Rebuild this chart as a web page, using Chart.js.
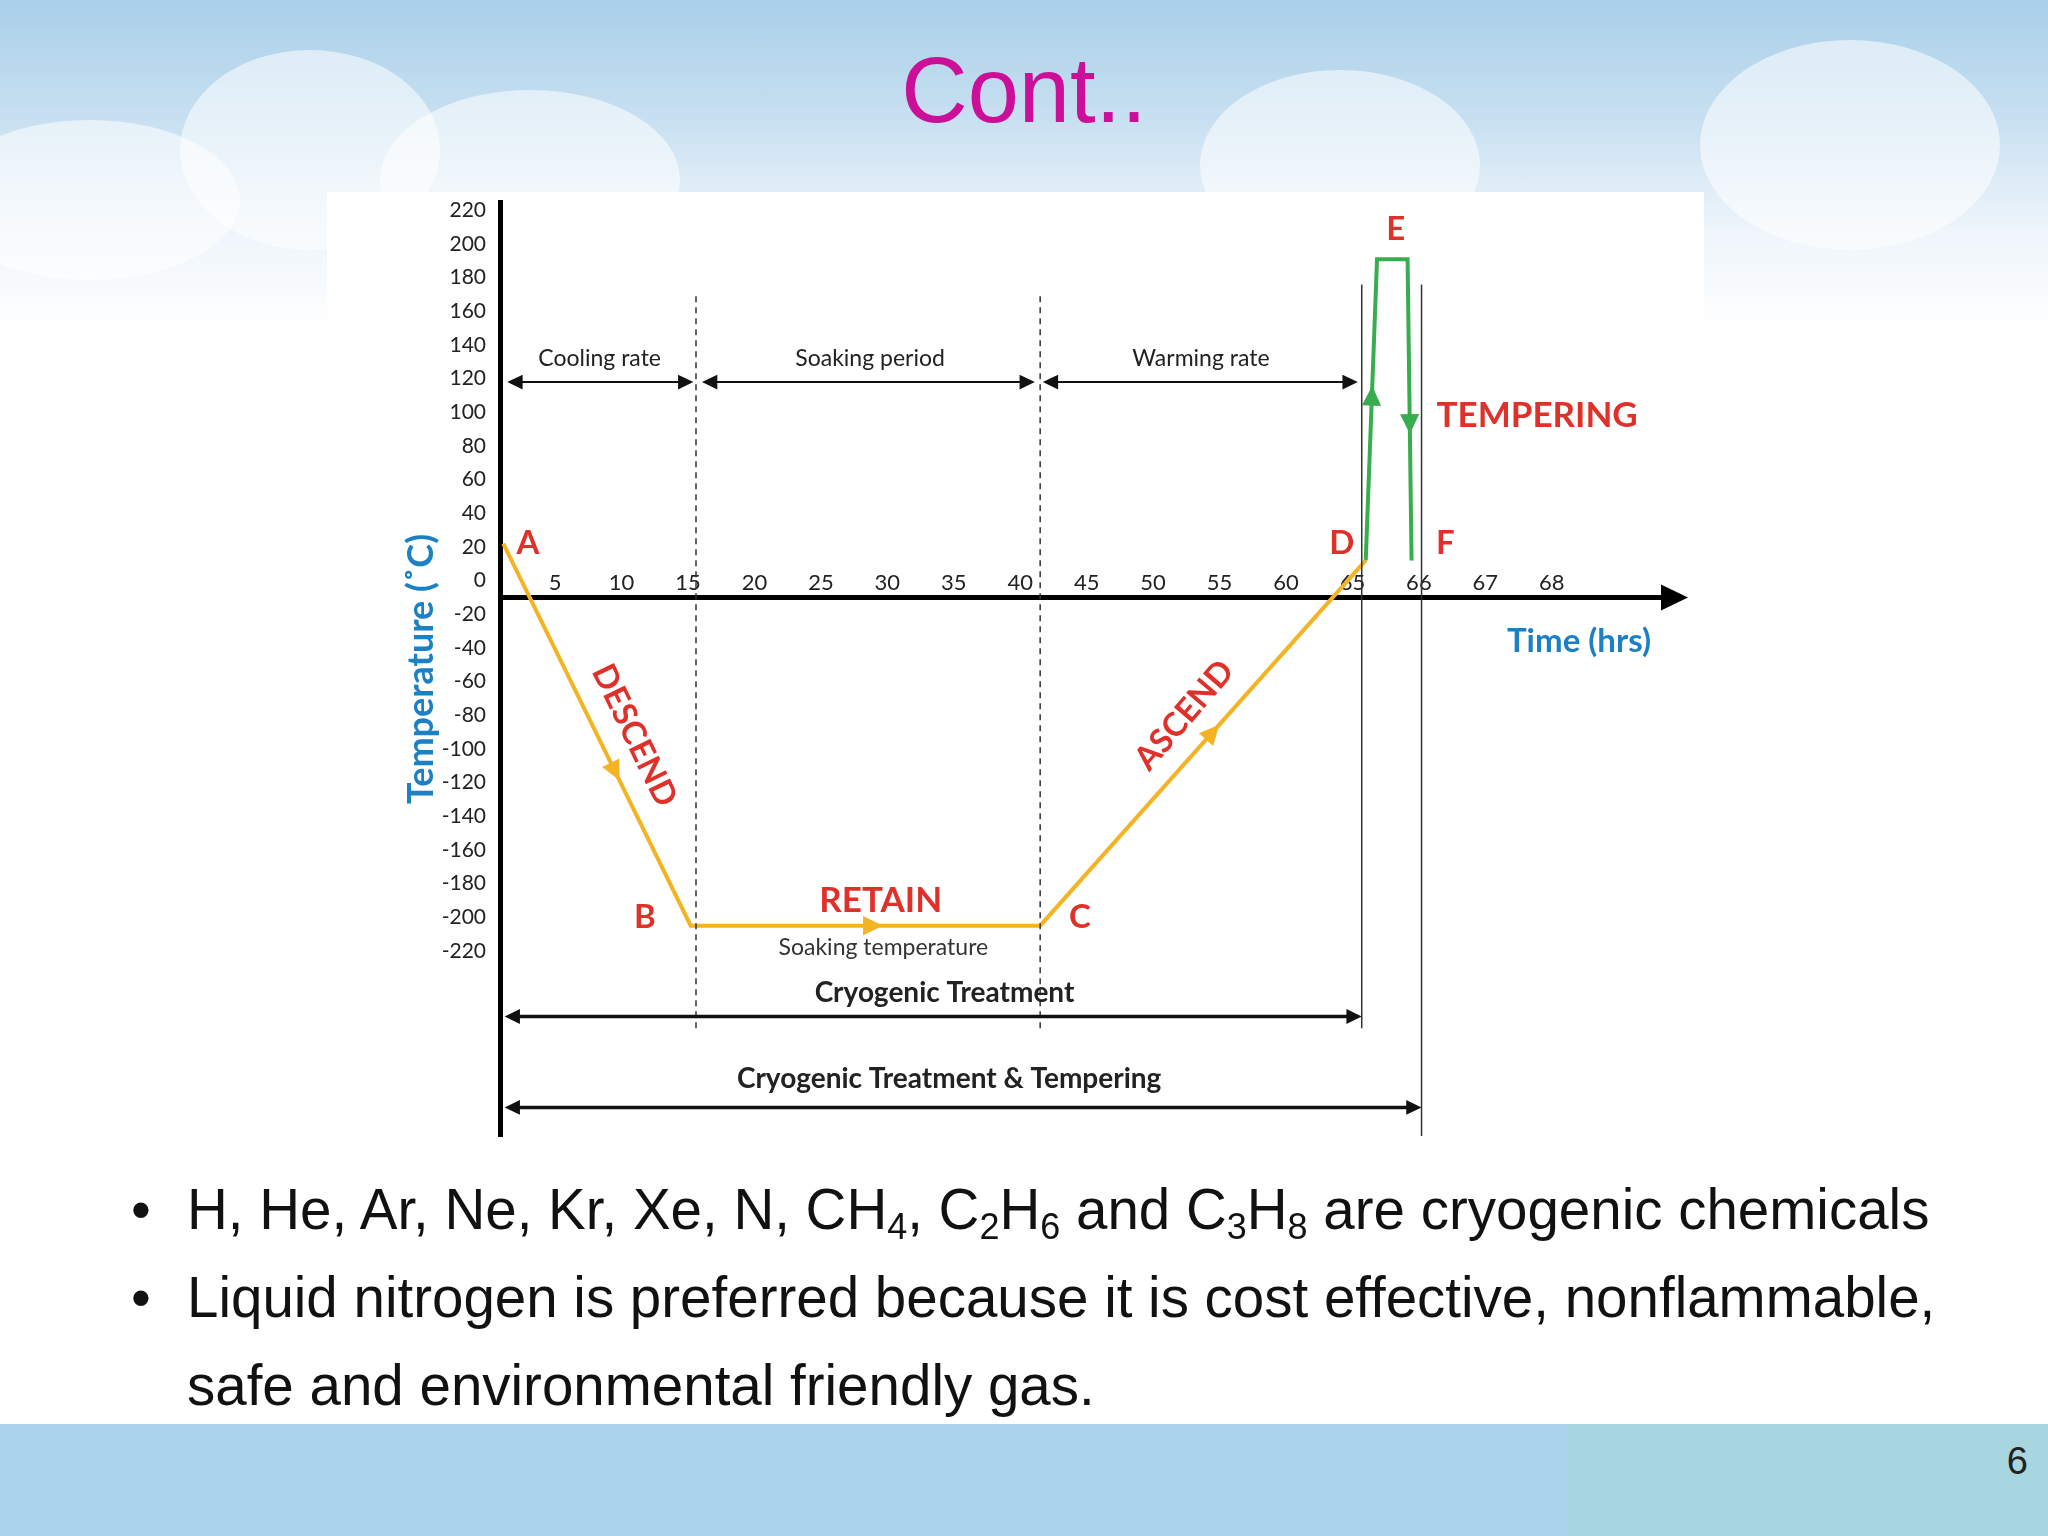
<!DOCTYPE html>
<html>
<head>
<meta charset="utf-8">
<script src="https://cdn.jsdelivr.net/npm/chart.js@4.4.1/dist/chart.umd.min.js"></script>
<style>
  html, body { margin: 0; padding: 0; }
  body { width: 2048px; height: 1536px; position: relative; overflow: hidden;
         background: linear-gradient(#a9cfe9 0px, #c8e0f1 120px, #eef5fb 230px, #ffffff 330px); font-family: "Liberation Sans", Arial, sans-serif; }
  .cloud { position: absolute; border-radius: 50%; background: rgba(255,255,255,0.55); }
  #panel { position: absolute; left: 327px; top: 192px; width: 1377px; height: 951px; background: #fff; }
  #title { position: absolute; left: 0; width: 2048px; top: 38px; text-align: center; font-size: 92px; color: #cc0f99; }
  #chart { position: absolute; left: 0; top: 0; }
  #bullets { position: absolute; left: 131px; top: 1166px; font-size: 56.5px; color: #111; line-height: 88px; }
  #bullets .b { position: relative; padding-left: 56px; }
  #bullets .b::before { content: "\2022"; position: absolute; left: 0; }
  sub { font-size: 36px; vertical-align: -10px; line-height: 0; }
  #footer { position: absolute; left: 0; top: 1424px; width: 2048px; height: 112px; background: #acd3ec; }
  #footer2 { position: absolute; left: 1568px; top: 1424px; width: 480px; height: 112px; background: #a8d6e0; }
  #page { position: absolute; right: 20px; top: 1440px; font-size: 38px; color: #222; }
</style>
</head>
<body>
<div class="cloud" style="left:180px;top:50px;width:260px;height:200px"></div>
<div class="cloud" style="left:380px;top:90px;width:300px;height:180px"></div>
<div class="cloud" style="left:1200px;top:70px;width:280px;height:190px"></div>
<div class="cloud" style="left:1700px;top:40px;width:300px;height:210px"></div>
<div class="cloud" style="left:-60px;top:120px;width:300px;height:160px"></div>
<div id="panel"></div>
<div id="title">Cont..</div>
<canvas id="chart" width="2048" height="1536"></canvas>
<div id="bullets">
  <div class="b">H, He, Ar, Ne, Kr, Xe, N, CH<sub>4</sub>, C<sub>2</sub>H<sub>6</sub> and C<sub>3</sub>H<sub>8</sub> are cryogenic chemicals</div>
  <div class="b">Liquid nitrogen is preferred because it is cost effective, nonflammable,<br>safe and environmental friendly gas.</div>
</div>
<div id="footer"></div>
<div id="footer2"></div>
<div id="page">6</div>
<script>
// x axis is an evenly spaced position index; labels map to hours
const timeLabels = ['5', '10', '15', '20', '25', '30', '35', '40', '45', '50', '55', '60', '65', '66', '67', '68'];
const tempTicks = [220, 200, 180, 160, 140, 120, 100, 80, 60, 40, 20, 0, -20, -40, -60, -80, -100, -120, -140, -160, -180, -200, -220];

// cryogenic curve A-B-C-D (position index, deg C)
const cryoPos = [0.22, 3.04, 8.3, 13.2];
const cryoTemp = [22, -205, -205, 12];
// tempering curve D-E-F
const tempPos = [13.2, 13.37, 13.83, 13.89];
const tempTemp = [12, 191, 191, 12];

const orange = '#f4b323', green = '#38ad4e', red = '#e0302a', blue = '#1b80c4';
const labelFont = 'Lato, "Open Sans", sans-serif';

function pts(xs, ys) { return xs.map((x, i) => ({ x: x, y: ys[i] })); }

const overlay = {
  id: 'overlay',
  afterDatasetsDraw(chart) {
    const c = chart.ctx, sx = chart.scales.x, sy = chart.scales.y;
    const X = v => sx.getPixelForValue(v), Y = v => sy.getPixelForValue(v);
    c.save();
    function head(x, y, ang, col, len) {
      c.fillStyle = col;
      c.beginPath();
      c.moveTo(x, y);
      c.lineTo(x - len * Math.cos(ang - 0.45), y - len * Math.sin(ang - 0.45));
      c.lineTo(x - len * Math.cos(ang + 0.45), y - len * Math.sin(ang + 0.45));
      c.closePath(); c.fill();
    }
    function vline(u, t0, t1, dash) {
      c.strokeStyle = '#333'; c.lineWidth = 1.5; c.setLineDash(dash);
      c.beginPath(); c.moveTo(X(u), Y(t0)); c.lineTo(X(u), Y(t1)); c.stroke();
      c.setLineDash([]);
    }
    function harrow(u0, u1, t, w) {
      const y = Y(t);
      c.strokeStyle = '#111'; c.lineWidth = w;
      c.beginPath(); c.moveTo(X(u0) + 8, y); c.lineTo(X(u1) - 8, y); c.stroke();
      head(X(u0), y, Math.PI, '#111', 17);
      head(X(u1), y, 0, '#111', 17);
    }
    function text(s, u, t, font, col, rot) {
      c.save(); c.translate(X(u), Y(t)); if (rot) c.rotate(rot);
      c.font = font; c.fillStyle = col; c.textAlign = 'center'; c.textBaseline = 'middle';
      c.fillText(s, 0, 0); c.restore();
    }
    vline(3.12, 169, -266, [6, 5]);
    vline(8.3, 169, -266, [6, 5]);
    vline(13.14, 176, -266, []);
    vline(14.04, 176, -330, []);
    harrow(0.28, 3.08, 118, 2);
    harrow(3.21, 8.22, 118, 2);
    harrow(8.34, 13.08, 118, 2);
    harrow(0.24, 13.14, -259, 3.5);
    harrow(0.24, 14.04, -313, 3.5);
    // x axis arrow head
    head(sx.right + 10, Y(-10), 0, '#000', 30);
    // arrows along curves
    function along(xs, ys, i, f, col) {
      const x0 = X(xs[i]), y0 = Y(ys[i]), x1 = X(xs[i + 1]), y1 = Y(ys[i + 1]);
      head(x0 + (x1 - x0) * f, y0 + (y1 - y0) * f, Math.atan2(y1 - y0, x1 - x0), col, 22);
    }
    along(cryoPos, cryoTemp, 0, 0.62, orange);
    along(cryoPos, cryoTemp, 1, 0.55, orange);
    along(cryoPos, cryoTemp, 2, 0.55, orange);
    along(tempPos, tempTemp, 0, 0.58, green);
    along(tempPos, tempTemp, 2, 0.58, green);

    const small = '23px ' + labelFont;
    text('Cooling rate', 1.67, 132, small, '#222');
    text('Soaking period', 5.74, 132, small, '#222');
    text('Warming rate', 10.72, 132, small, '#222');
    text('Soaking temperature', 5.94, -218, small, '#333');
    text('Cryogenic Treatment', 6.86, -245, 'bold 28px ' + labelFont, '#222');
    text('Cryogenic Treatment & Tempering', 6.93, -296, 'bold 28px ' + labelFont, '#222');
    const big = 'bold 33px ' + labelFont;
    text('A', 0.59, 22, big, red);
    text('B', 2.35, -200, big, red);
    text('C', 8.9, -200, big, red);
    text('D', 12.84, 22, big, red);
    text('E', 13.65, 209, big, red);
    text('F', 14.4, 22, big, red);
    text('TEMPERING', 15.78, 98, 'bold 35px ' + labelFont, red);
    text('RETAIN', 5.9, -190, 'bold 35px ' + labelFont, red);
    text('DESCEND', 2.19, -92, 'bold 33px ' + labelFont, red, 1.12);
    text('ASCEND', 10.47, -80, 'bold 33px ' + labelFont, red, -0.86);
    text('Time (hrs)', 16.41, -36, 'bold 33px ' + labelFont, blue);
    c.restore();
  }
};

new Chart(document.getElementById('chart'), {
  type: 'scatter',
  data: {
    datasets: [
      { data: pts(cryoPos, cryoTemp), showLine: true, borderColor: orange, borderWidth: 4, pointRadius: 0, tension: 0 },
      { data: pts(tempPos, tempTemp), showLine: true, borderColor: green, borderWidth: 4, pointRadius: 0, tension: 0 }
    ]
  },
  options: {
    responsive: false,
    devicePixelRatio: 1,
    animation: false,
    layout: { padding: { left: 400, top: 202, right: 370, bottom: 400 } },
    plugins: { legend: { display: false }, tooltip: { enabled: false } },
    scales: {
      x: {
        type: 'linear', position: { y: -10 }, min: 0.17, max: 17.9,
        grid: { display: false },
        border: { color: '#000', width: 5 },
        afterBuildTicks: s => { s.ticks = timeLabels.map((l, i) => ({ value: i + 1 })); },
        ticks: {
          autoSkip: false, maxRotation: 0, padding: -36, color: '#222',
          font: { family: labelFont, size: 22 },
          callback: (v) => timeLabels[Math.round(v) - 1] || ''
        }
      },
      y: {
        type: 'linear', min: -330, max: 225,
        grid: { display: false },
        border: { color: '#000', width: 5 },
        afterFit: s => { s.width = 100; },
        afterBuildTicks: s => { s.ticks = tempTicks.map(v => ({ value: v })); },
        ticks: { autoSkip: false, padding: 6, color: '#222', font: { family: '"Liberation Sans Narrow", ' + labelFont, size: 21 } },
        title: { display: true, text: 'Temperature (˚C)', color: blue, padding: 0,
                 font: { family: labelFont, size: 36, weight: 'bold' } }
      }
    }
  },
  plugins: [overlay]
});
</script>
</body>
</html>
